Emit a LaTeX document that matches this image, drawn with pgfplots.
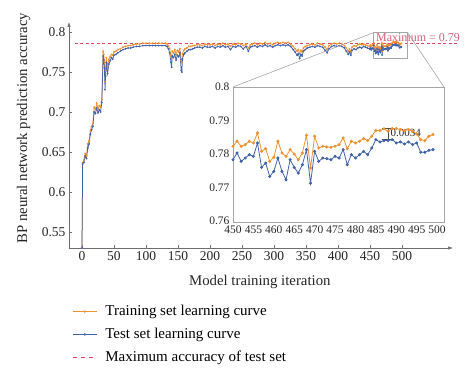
\documentclass[border=0pt]{standalone}
\usepackage{pgfplots}
\pgfplotsset{compat=1.18}
\usepackage{pgfplotstable}
\usepackage{fontspec}
\setmainfont{Liberation Serif}
\usetikzlibrary{arrows.meta}
\definecolor{trainc}{RGB}{237,146,50}
\definecolor{testc}{RGB}{66,98,168}
\definecolor{maxc}{RGB}{214,96,120}
\definecolor{maxl}{RGB}{228,70,100}
\definecolor{axc}{RGB}{110,110,110}

\pgfplotstableread{
x train test
0 0.530 0.530
1 0.637 0.635
3 0.640 0.637
5 0.648 0.645
7 0.645 0.642
9 0.660 0.655
11 0.664 0.660
13 0.676 0.672
15 0.682 0.678
17 0.686 0.682
19 0.706 0.700
21 0.703 0.698
23 0.711 0.705
25 0.704 0.699
27 0.708 0.703
29 0.706 0.700
31 0.716 0.712
33 0.776 0.770
34 0.772 0.765
35 0.763 0.755
36 0.738 0.728
37 0.752 0.745
38 0.768 0.762
40 0.757 0.748
42 0.766 0.760
44 0.769 0.764
46 0.772 0.768
48 0.771 0.766
50 0.775 0.771
53 0.776 0.772
56 0.778 0.774
60 0.779 0.776
64 0.781 0.778
68 0.782 0.779
72 0.783 0.780
76 0.783 0.780
80 0.784 0.781
85 0.785 0.782
90 0.785 0.782
95 0.786 0.783
100 0.786 0.783
105 0.786 0.783
110 0.786 0.783
115 0.786 0.783
120 0.786 0.783
125 0.786 0.783
130 0.786 0.783
133 0.785 0.782
135 0.783 0.779
137 0.779 0.774
139 0.770 0.762
140 0.766 0.756
141 0.776 0.770
143 0.774 0.768
145 0.778 0.772
147 0.772 0.765
149 0.777 0.771
151 0.775 0.769
153 0.779 0.774
155 0.764 0.752
156 0.762 0.750
157 0.773 0.766
159 0.777 0.772
161 0.779 0.774
164 0.780 0.776
167 0.782 0.778
170 0.782 0.778
173 0.783 0.779
176 0.783 0.780
180 0.784 0.781
184 0.784 0.781
188 0.783 0.780
192 0.785 0.782
196 0.784 0.781
200 0.784 0.781
204 0.785 0.782
208 0.783 0.780
212 0.785 0.782
216 0.784 0.781
220 0.786 0.783
224 0.784 0.781
228 0.785 0.782
232 0.782 0.778
236 0.785 0.782
240 0.784 0.781
244 0.786 0.783
248 0.785 0.782
252 0.783 0.779
256 0.785 0.782
260 0.780 0.776
263 0.784 0.781
266 0.785 0.782
270 0.786 0.783
274 0.784 0.781
278 0.786 0.783
282 0.785 0.782
286 0.787 0.784
290 0.785 0.782
294 0.786 0.783
298 0.784 0.781
302 0.786 0.783
306 0.787 0.784
310 0.786 0.783
314 0.787 0.784
318 0.786 0.783
322 0.787 0.784
326 0.785 0.782
330 0.782 0.778
333 0.779 0.775
336 0.776 0.771
338 0.778 0.773
340 0.773 0.767
342 0.777 0.772
344 0.775 0.770
346 0.780 0.776
349 0.782 0.778
352 0.783 0.780
356 0.784 0.781
360 0.785 0.782
364 0.784 0.781
368 0.786 0.783
372 0.785 0.782
376 0.784 0.781
380 0.781 0.777
383 0.778 0.774
386 0.783 0.779
390 0.785 0.782
394 0.786 0.783
398 0.785 0.782
402 0.786 0.783
406 0.785 0.782
410 0.783 0.780
413 0.780 0.776
416 0.776 0.772
418 0.779 0.775
420 0.775 0.771
422 0.781 0.777
425 0.783 0.779
428 0.782 0.778
431 0.784 0.780
434 0.785 0.781
437 0.784 0.780
440 0.785 0.782
443 0.784 0.781
446 0.783 0.780
449 0.782 0.779
450 0.7823 0.7783
451 0.7838 0.7803
452 0.7823 0.7778
453 0.7828 0.7788
454 0.7838 0.7798
455 0.7833 0.7793
456 0.7863 0.7833
457 0.7808 0.7760
458 0.7816 0.7773
459 0.7778 0.7733
460 0.7790 0.7748
461 0.7838 0.7788
462 0.7803 0.7748
463 0.7793 0.7723
464 0.7813 0.7783
465 0.7800 0.7760
466 0.7783 0.7743
467 0.7803 0.7768
468 0.7856 0.7813
469 0.7758 0.7713
470 0.7853 0.7808
471 0.7818 0.7778
472 0.7823 0.7788
473 0.7821 0.7786
474 0.7820 0.7783
475 0.7823 0.7793
476 0.7828 0.7788
477 0.7848 0.7813
478 0.7816 0.7768
479 0.7838 0.7798
480 0.7833 0.7788
481 0.7838 0.7798
482 0.7846 0.7808
483 0.7840 0.7798
484 0.7853 0.7818
485 0.7870 0.7843
486 0.7870 0.7836
487 0.7875 0.7840
488 0.7868 0.7840
489 0.7876 0.7843
490 0.7876 0.7833
491 0.7873 0.7836
492 0.7870 0.7830
493 0.7873 0.7836
494 0.7868 0.7828
495 0.7860 0.7833
496 0.7843 0.7805
497 0.7840 0.7805
498 0.7853 0.7811
499 0.7858 0.7813
}\data

\begin{document}
\begin{tikzpicture}
\path[use as bounding box] (-69pt,-135pt) rectangle (405pt,248pt);
\begin{axis}[
  name=main,
  at={(0pt,0pt)}, anchor=south west,
  scale only axis, width=384pt, height=226pt,
  xmin=-20.3, xmax=579.7, ymin=0.53, ymax=0.8125,
  axis lines=left,
  axis line style={axc, line width=0.6pt},
  x axis line style={-{Latex[length=5pt,width=3.5pt]}},
  y axis line style={-{Latex[length=5pt,width=3.5pt]}},
  clip=false,
  xtick={0,50,...,500},
  ytick={0.55,0.6,0.65,0.7,0.75,0.8},
  major tick length=3pt,
  tick style={axc, line width=0.5pt},
  tick align=inside,
  yticklabel style={/pgf/number format/fixed,/pgf/number format/precision=2},
  /pgf/number format/assume math mode=true,
  tick label style={font=\fontsize{13.5}{15}\selectfont, text=black!85},
  xlabel={Model training iteration},
  ylabel={BP neural network prediction accuracy},
  label style={font=\fontsize{14.8}{16}\selectfont, text=black!85},
  xlabel style={at={(axis description cs:0.497,-0.150)}, anchor=center},
  ylabel style={at={(axis description cs:-0.118,0.53)}, anchor=center},
  legend style={at={(axis description cs:0.008,-0.245)}, anchor=north west,
    draw=none, fill=none, inner sep=0pt, row sep=7pt,
    font=\fontsize{15}{16}\selectfont,
    /tikz/every odd column/.append style={column sep=6pt}},
  legend cell align=left,
]
\addplot[color=trainc, line width=0.75pt, mark=*, mark size=0.5pt,
  legend image code/.code={\draw[trainc, line width=1.1pt] (0pt,0pt) -- (24pt,0pt); \fill[trainc] (12pt,0pt) circle (0.8pt);}] table[x=x,y=train] {\data};
\addlegendentry{Training set learning curve}
\addplot[color=testc, line width=0.75pt, mark=*, mark size=0.5pt,
  legend image code/.code={\draw[testc, line width=1.1pt] (0pt,0pt) -- (24pt,0pt); \fill[testc] (12pt,0pt) circle (0.8pt);}] table[x=x,y=test] {\data};
\addlegendentry{Test set learning curve}
\addplot[color=maxl, dash pattern=on 3pt off 2.5pt, line width=0.9pt,
  legend image code/.code={\draw[maxl, line width=1.1pt, dash pattern=on 4pt off 4pt] (0pt,0pt) -- (24pt,0pt);}] coordinates {(-11,0.786) (586,0.786)};
\addlegendentry{Maximum accuracy of test set}
\node[text=maxc, font=\fontsize{12}{14}\selectfont, anchor=center] at (axis cs:525,0.7935) {Maximum = 0.79};
\draw[gray!70, line width=0.6pt] (axis cs:455,0.7675) rectangle (axis cs:509,0.799);
\coordinate (tl) at (axis cs:455,0.799);
\coordinate (tr) at (axis cs:509,0.799);
\end{axis}
\begin{axis}[
  name=inset,
  at={(164pt,26pt)}, anchor=south west,
  scale only axis, width=211pt, height=135pt,
  xmin=450, xmax=501.7, ymin=0.7597, ymax=0.80,
  axis line style={gray!70, line width=0.7pt},
  xtick={450,455,...,500},
  ytick={0.76,0.77,0.78,0.79,0.8},
  major tick length=0pt,
  yticklabel style={/pgf/number format/fixed,/pgf/number format/precision=2},
  /pgf/number format/assume math mode=true,
  tick label style={font=\fontsize{11.5}{13}\selectfont, text=black!85},
  xticklabel style={/pgf/number format/1000 sep={}},
  clip=false,
]
\addplot[color=trainc, line width=0.8pt, mark=*, mark size=1.1pt] table[x=x,y=train, restrict x to domain=449.5:500] {\data};
\addplot[color=testc, line width=0.8pt, mark=*, mark size=1.1pt] table[x=x,y=test, restrict x to domain=449.5:500] {\data};
\draw[black!70, line width=0.5pt] (axis cs:488,0.7877) -- (axis cs:488,0.7843);
\draw[black!70, line width=0.5pt] (axis cs:486.6,0.7877) -- (axis cs:489.4,0.7877);
\draw[black!70, line width=0.5pt] (axis cs:486.6,0.7843) -- (axis cs:489.4,0.7843);
\node[anchor=west, font=\fontsize{11}{12}\selectfont, text=black!85, inner sep=1pt] at (axis cs:488.3,0.7862) {0.0034};
\end{axis}
\draw[gray!70, line width=0.6pt] (tl) -- (inset.north west);
\draw[gray!70, line width=0.6pt] (tr) -- (inset.north east);
\end{tikzpicture}
\end{document}
